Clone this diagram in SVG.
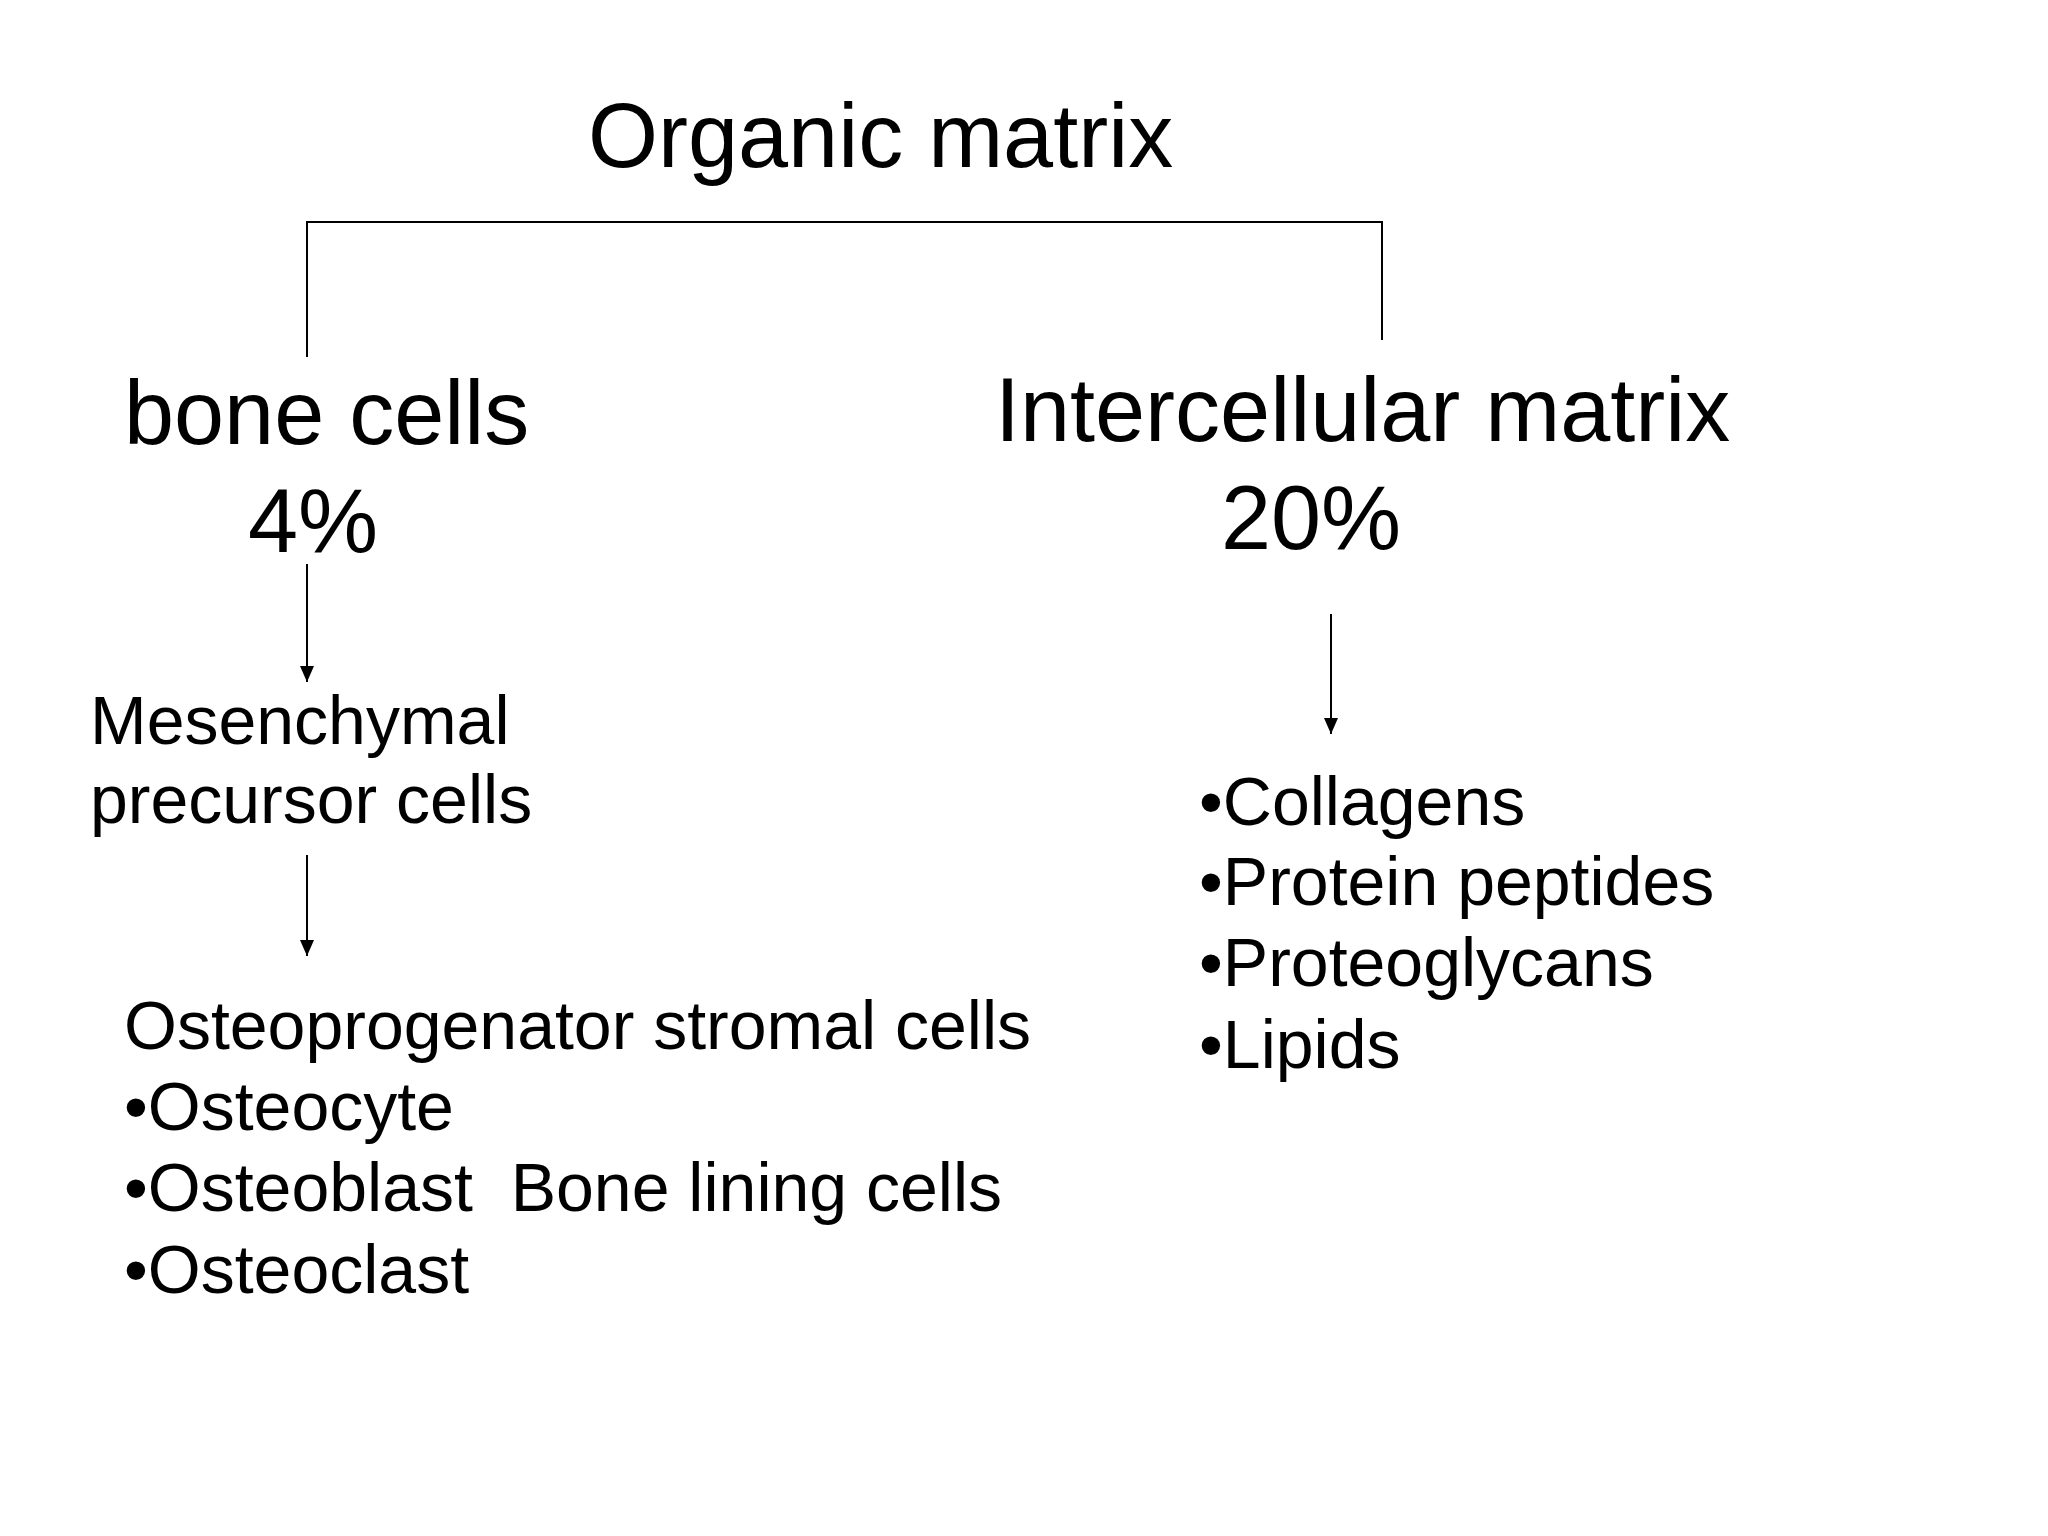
<svg xmlns="http://www.w3.org/2000/svg" width="2048" height="1536" viewBox="0 0 2048 1536">
<style>
.t{font-family:"Liberation Sans",Arial,sans-serif;fill:#000;white-space:pre}
.big{font-size:90px}
.mid{font-size:68px}
.ln{stroke:#000;stroke-width:2;fill:none}
</style>
<defs>
<marker id="ah" markerWidth="18" markerHeight="18" refX="16" refY="7" orient="auto" markerUnits="userSpaceOnUse">
<path d="M0,0 L16,7 L0,14 Z" fill="#000"/>
</marker>
</defs>
<rect width="2048" height="1536" fill="#fff"/>
<g id="connectors">
<path class="ln" d="M307,357 V222 H1382 V340"/>
<line class="ln" x1="307" y1="564" x2="307" y2="682" marker-end="url(#ah)"/>
<line class="ln" x1="307" y1="855" x2="307" y2="956" marker-end="url(#ah)"/>
<line class="ln" x1="1331" y1="614" x2="1331" y2="734" marker-end="url(#ah)"/>
</g>
<g id="organic-matrix"><text class="t big" x="588" y="167">Organic matrix</text></g>
<g id="bone-cells">
<text class="t big" x="124" y="444">bone cells</text>
<text class="t big" x="248" y="552">4%</text>
</g>
<g id="intercellular-matrix">
<text class="t big" x="995" y="441">Intercellular matrix</text>
<text class="t big" x="1221" y="549">20%</text>
</g>
<g id="mesenchymal">
<text class="t mid" x="90" y="744">Mesenchymal</text>
<text class="t mid" x="90" y="823">precursor cells</text>
</g>
<g id="osteoprogenator">
<text class="t mid" x="124" y="1049">Osteoprogenator stromal cells</text>
<text class="t mid" x="124" y="1130">•Osteocyte</text>
<text class="t mid" x="124" y="1211">•Osteoblast  Bone lining cells</text>
<text class="t mid" x="124" y="1293">•Osteoclast</text>
</g>
<g id="matrix-components">
<text class="t mid" x="1199" y="825">•Collagens</text>
<text class="t mid" x="1199" y="905">•Protein peptides</text>
<text class="t mid" x="1199" y="986">•Proteoglycans</text>
<text class="t mid" x="1199" y="1068">•Lipids</text>
</g>
</svg>
